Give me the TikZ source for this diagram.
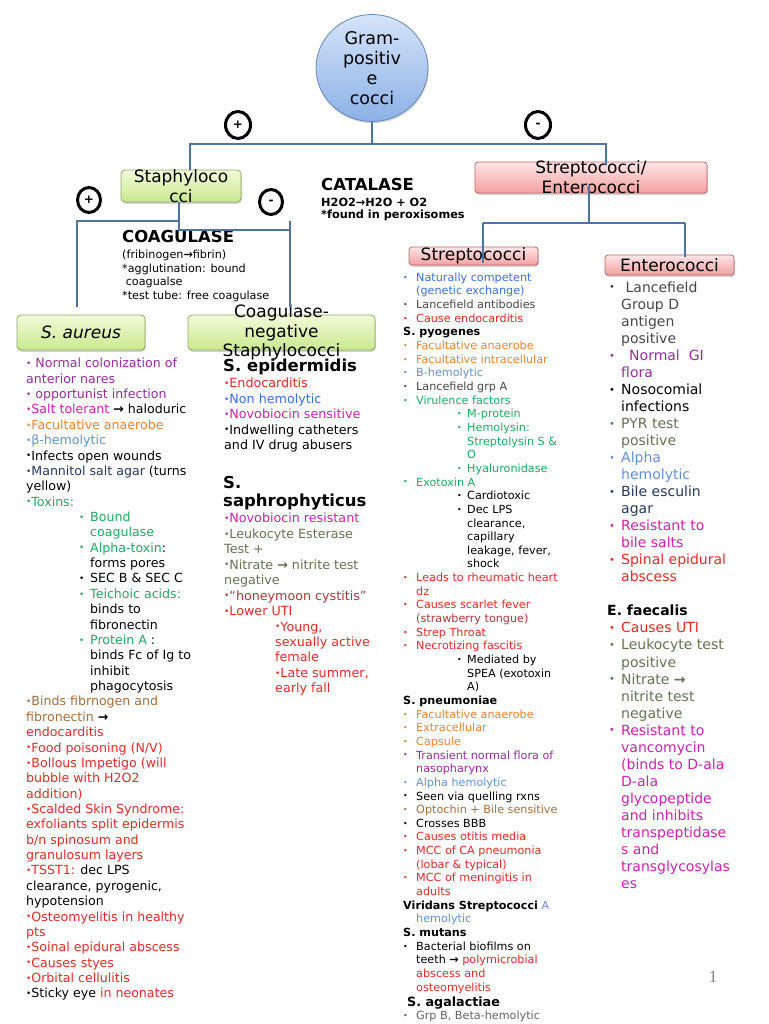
\documentclass[tikz,border=0pt]{standalone}
\usepackage{fontspec}
\setmainfont{DejaVu Sans}
\newfontfamily\numfont{Liberation Serif}
\usepackage{tikz}
\usetikzlibrary{positioning,shapes.geometric,shadows}
\definecolor{linecol}{RGB}{79,115,165}
\definecolor{gramtop}{RGB}{212,228,249}
\definecolor{grambot}{RGB}{140,177,230}
\definecolor{gramedge}{RGB}{105,135,185}
\definecolor{gtopcol}{RGB}{242,250,218}
\definecolor{gbotcol}{RGB}{202,233,142}
\definecolor{gedgecol}{RGB}{145,172,100}
\definecolor{rtopcol}{RGB}{253,230,230}
\definecolor{rbotcol}{RGB}{243,160,160}
\definecolor{redgecol}{RGB}{200,100,100}
\definecolor{purpcol}{RGB}{150,45,155}
\definecolor{magcol}{RGB}{205,35,170}
\definecolor{orgcol}{RGB}{240,130,50}
\definecolor{lbluecol}{RGB}{100,145,210}
\definecolor{bluecol}{RGB}{60,110,230}
\definecolor{navycol}{RGB}{35,55,95}
\definecolor{grncol}{RGB}{30,170,95}
\definecolor{browncol}{RGB}{165,110,60}
\definecolor{redcol}{RGB}{235,40,40}
\definecolor{olivecol}{RGB}{100,115,80}
\definecolor{dgraycol}{RGB}{70,70,70}
\definecolor{marooncol}{RGB}{175,55,55}
\definecolor{gbcol}{RGB}{100,100,100}
\definecolor{numcol}{RGB}{130,130,130}

% small bullet, arrow and hanging bullets
\newcommand{\bul}{\raisebox{.1em}{\scalebox{.7}{\textbullet}}}
\newcommand{\arr}{\textbf{→}}
\newcommand{\hbul}[1]{\makebox[#1][l]{\bul}}
\newcommand{\aurSub}{\hspace*{53pt}\hbul{11pt}}
\newcommand{\aurCont}{\hspace*{64pt}}
\newcommand{\sapSub}{\hspace*{51pt}}
\newcommand{\strI}{\hbul{13pt}}
\newcommand{\strC}{\hspace*{13pt}}
\newcommand{\strS}{\hspace*{54pt}\hbul{10pt}}
\newcommand{\strSC}{\hspace*{64pt}}
\newcommand{\entI}{\hbul{12pt}}
\newcommand{\entC}{\hspace*{12pt}}

\begin{document}
\begin{tikzpicture}[x=1pt, y=-1pt,
  gram/.style={ellipse, draw=gramedge, line width=0.8pt, top color=gramtop, bottom color=grambot,
               minimum width=112pt, minimum height=107pt, inner sep=0pt, align=center,
               font=\fontsize{17.5}{20}\selectfont,
               drop shadow={opacity=0.3, shadow xshift=0.8pt, shadow yshift=-1.8pt}},
  gbox/.style={rectangle, rounded corners=4pt, draw=gedgecol, line width=0.8pt,
               top color=gtopcol, bottom color=gbotcol, inner sep=0pt,
               drop shadow={opacity=0.35, shadow xshift=0.8pt, shadow yshift=-1.8pt}},
  rbox/.style={rectangle, rounded corners=3pt, draw=redgecol, line width=0.8pt,
               top color=rtopcol, bottom color=rbotcol, inner sep=0pt,
               drop shadow={opacity=0.35, shadow xshift=0.8pt, shadow yshift=-1.8pt}},
  boxlbl/.style={align=center, inner sep=0pt, font=\fontsize{17}{20}\selectfont},
  sign/.style={ellipse, draw=black, line width=3pt, minimum width=#1, minimum height=#1+2pt,
               inner sep=0pt, font=\fontsize{12}{12}\selectfont\bfseries},
  conn/.style={draw=linecol, line width=1.2pt},
  head/.style={anchor=north west, inner sep=0pt, align=left,
               font=\fontsize{16.5}{18}\selectfont\bfseries},
  txtA/.style={anchor=north west, inner sep=0pt, align=left, font=\fontsize{12.6}{15.37}\selectfont},
  txtB/.style={anchor=north west, inner sep=0pt, align=left, font=\fontsize{12.7}{15.45}\selectfont},
  txtC/.style={anchor=north west, inner sep=0pt, align=left, font=\fontsize{11.2}{13.65}\selectfont},
  txtD/.style={anchor=north west, inner sep=0pt, align=left, font=\fontsize{14}{17.03}\selectfont}
]
\path[use as bounding box, fill=white] (0,0) rectangle (768,1024);

% top of the tree
\node[gram] (gram) at (372,68) {Gram-\\positiv\\e\\cocci};
\node[sign=25pt] (plustop) at (238,125) {+};
\node[sign=25pt] (minustop) at (538,125) {-};

\node[gbox, minimum width=120pt, minimum height=32pt] (staph) at (181,186) {};
\node[boxlbl] (staphlbl) at (staph.center) {Staphyloco\\cci};
\node[rbox, minimum width=232pt, minimum height=31pt] (strepent) at (591,177.5) {};
\node[boxlbl] (strepentlbl) at (strepent.center) {Streptococci/\\Enterococci};

\node[head] (catalase) at (321,178.5) {CATALASE};
\node[anchor=north west, inner sep=0pt, align=left, font=\fontsize{11.3}{12.5}\selectfont\bfseries]
  (catnote) at (321,197.6) {H2O2→H2O + O2\\*found in peroxisomes};

% staphylococci branch
\node[sign=23pt] (pluscoag) at (89,200) {+};
\node[sign=23pt] (minuscoag) at (271,202) {-};
\node[head] (coagulase) at (122,230.5) {COAGULASE};
\node[anchor=north west, inner sep=0pt, align=left, font=\fontsize{11.2}{13.7}\selectfont]
  (coagnote) at (122,249.6) {(fribinogen\arr fibrin)\\*agglutination: bound\\\ coagualse\\*test tube: free coagulase};

\node[gbox, minimum width=128pt, minimum height=35pt] (aureus) at (81,332.5) {};
\node[boxlbl, font=\fontsize{17}{20}\selectfont\itshape] (aureuslbl) at (aureus.center) {S. aureus};
\node[gbox, minimum width=187pt, minimum height=35pt] (cneg) at (281.5,332.5) {};
\node[boxlbl, font=\fontsize{17}{19.5}\selectfont] (cneglbl) at (cneg.center) {Coagulase-\\negative\\Staphylococci};

% streptococci / enterococci branch
\node[rbox, minimum width=129pt, minimum height=18pt] (strep) at (473.5,256) {};
\node[boxlbl] (streplbl) at (strep.center) {Streptococci};
\node[rbox, minimum width=129pt, minimum height=20pt] (entero) at (669.5,265) {};
\node[boxlbl] (enterolbl) at (entero.center) {Enterococci};

% connectors
\coordinate (topbus) at (372,144);
\coordinate (busL) at (190,144);
\coordinate (busR) at (606,144);
\draw[conn] (gram.south) -- (topbus);
\draw[conn] (staph.north -| busL) -- (busL) -- (busR) -- ([yshift=-3pt]strepent.north -| busR);

\coordinate (sbend) at (179,230);
\coordinate (cnegtop) at (290,221);
\coordinate (cnegend) at (290,307);
\coordinate (aurtop) at (77,221);
\coordinate (aurend) at (77,307);
\draw[conn] (staph.south -| sbend) -- (sbend) -- (sbend -| cnegtop);
\draw[conn] (cnegtop) -- (cnegend);
\draw[conn] (aurend) -- (aurtop) -- (aurtop -| sbend);

\coordinate (sebus) at (589,223);
\coordinate (sebusL) at (483,223);
\coordinate (sebusR) at (685,223);
\draw[conn] ([yshift=8pt]strepent.south -| sebus) -- (sebus);
\draw[conn] (sebusL) -- (sebusR);
\draw[conn] (sebusL) -- ([yshift=2pt]strep.south -| sebusL);
\draw[conn] (sebusR) -- ([yshift=-2pt]entero.north -| sebusR);

% S. aureus column
\node[txtA] (aureustxt) at (26,358) {%
\textcolor{purpcol}{\bul\ Normal colonization of}\\
\textcolor{purpcol}{anterior nares}\\
\textcolor{purpcol}{\bul\ opportunist infection}\\
\textcolor{magcol}{\bul Salt tolerant} \arr\ haloduric\\
\textcolor{orgcol}{\bul Facultative anaerobe}\\
\textcolor{lbluecol}{\bul β-hemolytic}\\
\bul Infects open wounds\\
\textcolor{navycol}{\bul Mannitol salt agar} (turns\\
yellow)\\
\textcolor{grncol}{\bul Toxins:}\\
\textcolor{grncol}{\aurSub Bound}\\
\aurCont\textcolor{grncol}{coagulase}\\
\textcolor{grncol}{\aurSub Alpha-toxin}:\\
\aurCont forms pores\\
\aurSub SEC B \& SEC C\\
\textcolor{grncol}{\aurSub Teichoic acids:}\\
\aurCont binds to\\
\aurCont fibronectin\\
\textcolor{grncol}{\aurSub Protein A} :\\
\aurCont binds Fc of Ig to\\
\aurCont inhibit\\
\aurCont phagocytosis\\
\textcolor{browncol}{\bul Binds fibrnogen and}\\
\textcolor{browncol}{fibronectin} \arr\\
\textcolor{redcol}{endocarditis}\\
\textcolor{redcol}{\bul Food poisoning (N/V)}\\
\textcolor{redcol}{\bul Bollous Impetigo (will}\\
\textcolor{redcol}{bubble with H2O2}\\
\textcolor{redcol}{addition)}\\
\textcolor{redcol}{\bul Scalded Skin Syndrome:}\\
\textcolor{redcol}{exfoliants split epidermis}\\
\textcolor{redcol}{b/n spinosum and}\\
\textcolor{redcol}{granulosum layers}\\
\textcolor{redcol}{\bul TSST1:} dec LPS\\
clearance, pyrogenic,\\
hypotension\\
\textcolor{redcol}{\bul Osteomyelitis in healthy}\\
\textcolor{redcol}{pts}\\
\textcolor{redcol}{\bul Soinal epidural abscess}\\
\textcolor{redcol}{\bul Causes styes}\\
\textcolor{redcol}{\bul Orbital cellulitis}\\
\bul Sticky eye \textcolor{redcol}{in neonates}};

% coagulase-negative column
\node[head] (epihead) at (223,358.5) {S. epidermidis};
\node[txtB] (epitxt) at (224,378) {%
\textcolor{redcol}{\bul Endocarditis}\\
\textcolor{bluecol}{\bul Non hemolytic}\\
\textcolor{magcol}{\bul Novobiocin sensitive}\\
\bul Indwelling catheters\\
and IV drug abusers};
\node[head] (saphead) at (223,476) {S.\\saphrophyticus};
\node[txtB] (saptxt) at (224,513) {%
\textcolor{magcol}{\bul Novobiocin resistant}\\
\textcolor{olivecol}{\bul Leukocyte Esterase}\\
\textcolor{olivecol}{Test +}\\
\textcolor{olivecol}{\bul Nitrate \arr\ nitrite test}\\
\textcolor{olivecol}{negative}\\
\textcolor{marooncol}{\bul “honeymoon cystitis”}\\
\textcolor{redcol}{\bul Lower UTI}\\
\textcolor{redcol}{\sapSub\bul Young,}\\
\textcolor{redcol}{\sapSub sexually active}\\
\textcolor{redcol}{\sapSub female}\\
\textcolor{redcol}{\sapSub\bul Late summer,}\\
\textcolor{redcol}{\sapSub early fall}};

% streptococci column
\node[txtC] (streptxt) at (403,272.6) {%
\textcolor{bluecol}{\strI Naturally competent}\\
\textcolor{bluecol}{\strC(genetic exchange)}\\
\textcolor{dgraycol}{\strI Lancefield antibodies}\\
\textcolor{redcol}{\strI Cause endocarditis}\\
\textbf{S. pyogenes}\\
\textcolor{orgcol}{\strI Facultative anaerobe}\\
\textcolor{orgcol}{\strI Facultative intracellular}\\
\textcolor{lbluecol}{\strI B-hemolytic}\\
\textcolor{dgraycol}{\strI Lancefield grp A}\\
\textcolor{grncol}{\strI Virulence factors}\\
\textcolor{grncol}{\strS M-protein}\\
\textcolor{grncol}{\strS Hemolysin:}\\
\textcolor{grncol}{\strSC Streptolysin S \&}\\
\textcolor{grncol}{\strSC O}\\
\textcolor{grncol}{\strS Hyaluronidase}\\
\textcolor{grncol}{\strI Exotoxin A}\\
\strS Cardiotoxic\\
\strS Dec LPS\\
\strSC clearance,\\
\strSC capillary\\
\strSC leakage, fever,\\
\strSC shock\\
\textcolor{redcol}{\strI Leads to rheumatic heart}\\
\textcolor{redcol}{\strC dz}\\
\textcolor{redcol}{\strI Causes scarlet fever}\\
\textcolor{marooncol}{\strC(strawberry tongue)}\\
\textcolor{redcol}{\strI Strep Throat}\\
\textcolor{redcol}{\strI Necrotizing fascitis}\\
\strS Mediated by\\
\strSC SPEA (exotoxin\\
\strSC A)\\
\textbf{S. pneumoniae}\\
\textcolor{orgcol}{\strI Facultative anaerobe}\\
\textcolor{orgcol}{\strI Extracellular}\\
\textcolor{orgcol}{\strI Capsule}\\
\textcolor{purpcol}{\strI Transient normal flora of}\\
\textcolor{purpcol}{\strC nasopharynx}\\
\textcolor{lbluecol}{\strI Alpha hemolytic}\\
\strI Seen via quelling rxns\\
\textcolor{browncol}{\strI Optochin + Bile sensitive}\\
\strI Crosses BBB\\
\textcolor{redcol}{\strI Causes otitis media}\\
\textcolor{redcol}{\strI MCC of CA pneumonia}\\
\textcolor{redcol}{\strC(lobar \& typical)}\\
\textcolor{redcol}{\strI MCC of meningitis in}\\
\textcolor{redcol}{\strC adults}\\
\textbf{Viridans Streptococci} \textcolor{lbluecol}{A}\\
\textcolor{lbluecol}{\strC hemolytic}\\
\textbf{S. mutans}\\
\strI Bacterial biofilms on\\
\strC teeth \arr\ \textcolor{redcol}{polymicrobial}\\
\textcolor{redcol}{\strC abscess and}\\
\textcolor{redcol}{\strC osteomyelitis}};
\node[anchor=north west, inner sep=0pt, font=\fontsize{12.7}{14}\selectfont\bfseries]
  (agahead) at (407,997) {S. agalactiae};
\node[txtC] (agatxt) at (403,1010.6) {\textcolor{gbcol}{\strI Grp B, Beta-hemolytic}};

% enterococci column
\node[txtD] (enterotxt) at (609,281.5) {%
\textcolor{dgraycol}{\entI\ Lancefield}\\
\textcolor{dgraycol}{\entC Group D}\\
\textcolor{dgraycol}{\entC antigen}\\
\textcolor{dgraycol}{\entC positive}\\
\textcolor{purpcol}{\entI\hspace*{8pt}Normal\hspace{9pt}GI}\\
\textcolor{purpcol}{\entC flora}\\
\entI Nosocomial\\
\entC infections\\
\textcolor{olivecol}{\entI PYR test}\\
\textcolor{olivecol}{\entC positive}\\
\textcolor{lbluecol}{\entI Alpha}\\
\textcolor{lbluecol}{\entC hemolytic}\\
\textcolor{navycol}{\entI Bile esculin}\\
\textcolor{navycol}{\entC agar}\\
\textcolor{magcol}{\entI Resistant to}\\
\textcolor{magcol}{\entC bile salts}\\
\textcolor{redcol}{\entI Spinal epidural}\\
\textcolor{redcol}{\entC abscess}\\
\mbox{}\\
\hspace*{-2pt}\textbf{E. faecalis}\\
\textcolor{redcol}{\entI Causes UTI}\\
\textcolor{olivecol}{\entI Leukocyte test}\\
\textcolor{olivecol}{\entC positive}\\
\textcolor{olivecol}{\entI Nitrate \arr}\\
\textcolor{olivecol}{\entC nitrite test}\\
\textcolor{olivecol}{\entC negative}\\
\textcolor{magcol}{\entI Resistant to}\\
\textcolor{magcol}{\entC vancomycin}\\
\textcolor{magcol}{\entC(binds to D-ala}\\
\textcolor{magcol}{\entC D-ala}\\
\textcolor{magcol}{\entC glycopeptide}\\
\textcolor{magcol}{\entC and inhibits}\\
\textcolor{magcol}{\entC transpeptidase}\\
\textcolor{magcol}{\entC s and}\\
\textcolor{magcol}{\entC transglycosylas}\\
\textcolor{magcol}{\entC es}};

\node[font=\numfont\fontsize{17}{17}\selectfont, text=numcol] (pagenum) at (713,977) {1};
\end{tikzpicture}
\end{document}
